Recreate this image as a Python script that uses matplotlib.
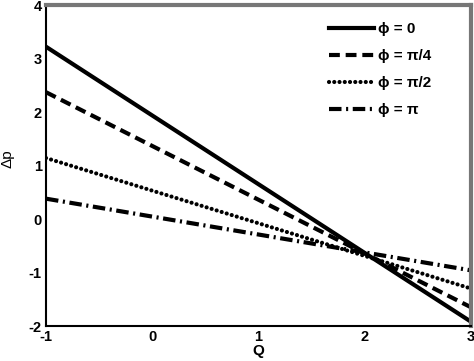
import matplotlib
matplotlib.use("Agg")
import matplotlib.pyplot as plt
import numpy as np

plt.rcParams['font.family'] = ['Liberation Sans', 'DejaVu Sans']
plt.rcParams['axes.unicode_minus'] = False

q_ends = [-1, 3]
labels = ['ϕ = 0', 'ϕ = π/4', 'ϕ = π/2', 'ϕ = π']
dp_phi0 = [3.22, -1.92]
dp_phi_pi4 = [2.37, -1.65]
dp_phi_pi2 = [1.14, -1.30]
dp_phi_pi = [0.38, -0.96]
xticks = [-1, 0, 1, 2, 3]
yticks = [-2, -1, 0, 1, 2, 3, 4]

fig = plt.figure(figsize=(4.74, 3.61), dpi=100)
ax = fig.add_axes([46/474, 1-326/361, (471-46)/474, (326-5)/361])

ax.plot(q_ends, dp_phi0, color='black', lw=3, ls='-', label=labels[0])
ax.plot(q_ends, dp_phi_pi4, color='black', lw=3, ls=(0, (2.6, 1.4)), label=labels[1])
ax.plot(q_ends, dp_phi_pi2, color='black', lw=3, ls=(0, (0.01, 1.25)),
        dash_capstyle='round', label=labels[2])
ax.plot(q_ends, dp_phi_pi, color='black', lw=3, ls=(0, (3, 1.1, 0.5, 1.1)), label=labels[3])

ax.set_xlim(-1, 3)
ax.set_ylim(-2, 4)
ax.set_xticks(xticks)
ax.set_yticks(yticks)
ax.tick_params(length=0, labelsize=10.5, pad=3)
for lab in ax.get_xticklabels() + ax.get_yticklabels():
    lab.set_fontweight('bold')
for s in ['left', 'bottom']:
    ax.spines[s].set_linewidth(1.5)
for s in ['top', 'right']:
    ax.spines[s].set_linewidth(3)
    ax.spines[s].set_color('#777777')

ax.set_xlabel('Q', fontsize=11, fontweight='bold', labelpad=0)
ax.set_ylabel('Δp', fontsize=11)
ax.yaxis.set_label_coords(-0.075, 0.52)

leg = ax.legend(loc='upper right', frameon=False, fontsize=11, handlelength=2.95,
                handletextpad=0.3, labelspacing=0.86, bbox_to_anchor=(0.94, 0.99))
for t in leg.get_texts():
    t.set_fontweight('bold')

fig.savefig('out.png', dpi=100)
